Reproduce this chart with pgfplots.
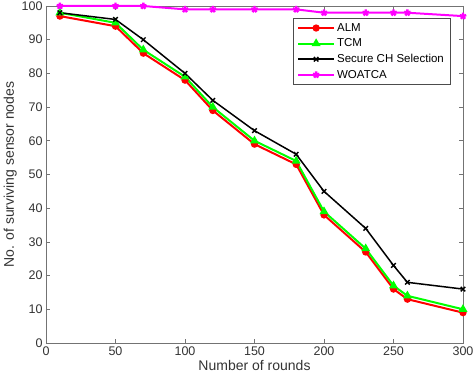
\documentclass[border=0pt]{standalone}
\usepackage{pgfplots}
\pgfplotsset{compat=1.18}
\usepackage{fontspec}
\setmainfont{Liberation Sans}
\usetikzlibrary{calc}
\definecolor{txt}{gray}{0.2}
\definecolor{axc}{gray}{0.45}
\definecolor{cR}{rgb}{1,0,0}
\definecolor{cG}{rgb}{0,1,0}
\definecolor{cM}{rgb}{1,0,1}
\begin{document}
\begin{tikzpicture}
\begin{axis}[
  name=ax,
  scale only axis,
  width=417pt, height=337pt,
  xmin=0, xmax=300, ymin=0, ymax=100,
  xtick={0,50,...,300}, ytick={0,10,...,100},
  tick align=inside,
  major tick length=4pt,
  axis line style={axc, line width=0.8pt},
  every tick/.style={axc, line width=0.6pt},
  tick label style={font=\fontsize{12.5}{14}\selectfont, text=txt},
  /pgf/number format/assume math mode=true,
  label style={font=\fontsize{14}{16}\selectfont, text=txt},
  xlabel={Number of rounds},
  ylabel={No. of surviving sensor nodes},
  xlabel style={yshift=2pt},
  ylabel style={yshift=-2pt},
  clip=false,
  legend style={at={(0.969,0.964)}, anchor=north east, draw=black!70,
    font=\fontsize{11.5}{13}\selectfont, text=black,
    row sep=2pt, inner xsep=4pt, inner ysep=3pt},
  legend cell align=left,
  legend image code/.code={\draw[#1] (0pt,0pt) -- (36pt,0pt); \draw[#1, mark repeat=1] plot coordinates {(18pt,0pt)};},
]
\addplot[cR, line width=2pt, mark=*, mark size=2.6pt] coordinates {
 (10,97) (50,94) (70,86) (100,78) (120,69) (150,59) (180,53) (200,38) (230,27) (250,16) (260,13) (300,9)};
\addlegendentry{ALM}
\addplot[cG, line width=2pt, mark=triangle*, mark size=3.2pt] coordinates {
 (10,98) (50,95) (70,87) (100,79) (120,70) (150,60) (180,54) (200,39) (230,28) (250,17) (260,14) (300,10)};
\addlegendentry{TCM}
\addplot[black, line width=1.5pt, mark=x, mark size=3.2pt, mark options={line width=1.4pt}] coordinates {
 (10,98) (50,96) (70,90) (100,80) (120,72) (150,63) (180,56) (200,45) (230,34) (250,23) (260,18) (300,16)};
\addlegendentry{Secure CH Selection}
\addplot[cM, line width=2pt, mark=star, mark size=3.4pt, mark options={line width=2.4pt}] coordinates {
 (10,100) (50,100) (70,100) (100,99) (120,99) (150,99) (180,99) (200,98) (230,98) (250,98) (260,98) (300,97)};
\addlegendentry{WOATCA}
\end{axis}
\pgfresetboundingbox
\path[use as bounding box] ($(ax.south west)+(-46pt,-44pt)$) rectangle ($(ax.north east)+(11pt,6pt)$);
\end{tikzpicture}
\end{document}
